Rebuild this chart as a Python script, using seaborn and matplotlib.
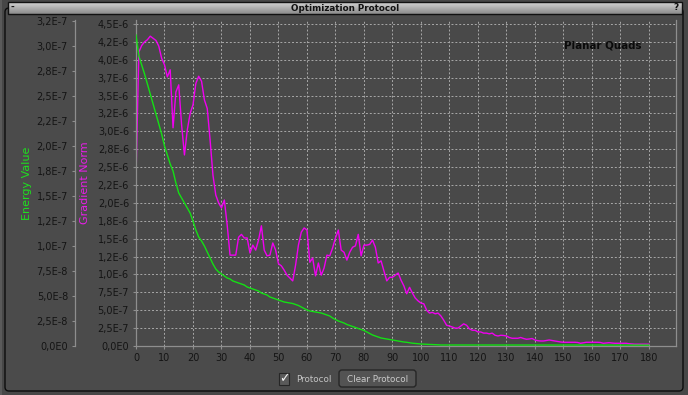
import numpy as np
import pandas as pd
import matplotlib
matplotlib.use("Agg")
import matplotlib.pyplot as plt
import seaborn as sns
from matplotlib.patches import FancyBboxPatch, Rectangle
from matplotlib.colors import LinearSegmentedColormap

# ---------------- data ----------------
iterations = list(range(0, 181))

# Energy value, in units of 1e-9
energy_1e9 = [
    311, 290, 281, 272, 262, 252, 242, 232, 222, 212,
    200, 191, 182, 175, 163, 153, 148, 143, 138, 133,
    125, 116, 109, 105, 100, 94, 88, 82, 77, 74,
    72, 70, 68, 67, 65, 64, 63, 62, 61, 59,
    58, 57, 56, 55, 53, 52, 51, 49, 48, 47,
    46, 45, 44, 43.5, 43, 42.5, 41.5, 40.5, 39, 37.5,
    36, 35, 34.5, 34, 33.5, 33, 32, 31, 30, 28,
    26.5, 25, 24, 23, 21.5, 20.5, 19.5, 18.5, 17.5, 16.5,
    15.5, 14, 12.5, 11, 10, 9, 8, 7.5, 7, 6.5,
    6, 5.5, 5, 4.5, 4, 3.7, 3.2, 2.8, 2.5, 2.2,
    2, 1.8, 1.7, 1.6, 1.5, 1.4, 1.2, 1.0, 1.0, 1.0,
    1.0, 0.9, 0.9, 0.9, 0.9, 0.9, 0.9, 0.9, 0.9, 0.9,
    0.9, 0.9, 0.9, 0.9, 0.9, 0.9, 0.9, 0.9, 0.9, 0.9,
    0.9, 0.9, 0.9, 0.9, 0.9, 0.9, 0.9, 0.9, 0.9, 0.9,
    0.9, 0.9, 0.9, 0.9, 0.9, 0.9, 0.9, 0.9, 0.9, 0.9,
    0.9, 0.9, 0.9, 0.9, 0.9, 0.9, 0.9, 0.9, 0.9, 0.9,
    0.9, 0.9, 0.9, 0.9, 0.9, 0.9, 0.9, 0.9, 0.9, 0.9,
    0.9, 0.9, 0.9, 0.9, 0.9, 0.9, 0.9, 0.9, 0.9, 0.9,
    0.9,
]

# Gradient norm, in units of 1e-7
gradient_1e7 = [
    23.6, 41.1, 42.0, 42.5, 42.8, 43.3, 43.0, 42.7, 41.9, 40.2,
    39.3, 37.6, 38.6, 30.5, 35.5, 36.5, 30.9, 26.7, 30.2, 32.5,
    33.7, 36.7, 37.7, 37.0, 34.4, 33.2, 28.8, 23.9, 21.1, 20.0,
    19.3, 20.4, 16.9, 12.7, 12.7, 12.7, 15.2, 15.6, 15.1, 15.1,
    13.0, 14.1, 13.4, 14.8, 16.8, 13.4, 12.6, 12.7, 14.4, 13.4,
    11.5, 11.2, 10.6, 9.9, 9.5, 9.1, 11.3, 14.1, 15.9, 16.5,
    16.2, 11.7, 12.3, 9.8, 11.6, 9.9, 10.9, 12.7, 12.6, 13.7,
    15.1, 16.2, 13.4, 13.1, 12.0, 13.1, 13.8, 14.0, 15.6, 12.6,
    14.1, 14.1, 14.2, 14.8, 13.8, 11.6, 11.9, 10.5, 9.1, 9.6,
    9.6, 9.9, 10.2, 9.2, 8.4, 7.3, 8.2, 7.4, 6.7, 6.3,
    6.0, 5.9, 5.0, 4.6, 4.7, 4.5, 4.6, 4.2, 3.6, 2.9,
    2.8, 2.65, 2.5, 2.5, 2.8, 3.1, 2.9, 2.4, 2.2, 2.2,
    1.96, 1.96, 1.8, 1.8, 1.7, 1.8, 1.5, 1.4, 1.5, 1.47,
    1.4, 1.19, 1.08, 1.08, 1.08, 1.19, 1.05, 0.94, 0.98, 1.05,
    0.84, 0.74, 0.70, 0.70, 0.77, 0.84, 0.77, 0.70, 0.63, 0.56,
    0.52, 0.52, 0.52, 0.52, 0.52, 0.49, 0.38, 0.45, 0.52, 0.52,
    0.52, 0.52, 0.52, 0.49, 0.38, 0.42, 0.46, 0.42, 0.38, 0.38,
    0.38, 0.38, 0.38, 0.32, 0.28, 0.25, 0.25, 0.25, 0.25, 0.25,
    0.25,
]

x_ticks = [0, 10, 20, 30, 40, 50, 60, 70, 80, 90, 100, 110, 120, 130, 140, 150, 160, 170, 180]
energy_ticks = [0.0, 2.5e-8, 5.0e-8, 7.5e-8, 1.0e-7, 1.25e-7, 1.5e-7, 1.75e-7,
                2.0e-7, 2.25e-7, 2.5e-7, 2.75e-7, 3.0e-7, 3.25e-7]
energy_tick_labels = ["0,0E0", "2,5E-8", "5,0E-8", "7,5E-8", "1,0E-7", "1,2E-7", "1,5E-7",
                      "1,8E-7", "2,0E-7", "2,2E-7", "2,5E-7", "2,8E-7", "3,0E-7", "3,2E-7"]
gradient_ticks = [0.0, 2.5e-7, 5.0e-7, 7.5e-7, 1.0e-6, 1.25e-6, 1.5e-6, 1.75e-6, 2.0e-6,
                  2.25e-6, 2.5e-6, 2.75e-6, 3.0e-6, 3.25e-6, 3.5e-6, 3.75e-6, 4.0e-6,
                  4.25e-6, 4.5e-6]
gradient_tick_labels = ["0,0E0", "2,5E-7", "5,0E-7", "7,5E-7", "1,0E-6", "1,2E-6", "1,5E-6",
                        "1,8E-6", "2,0E-6", "2,2E-6", "2,5E-6", "2,8E-6", "3,0E-6", "3,2E-6",
                        "3,5E-6", "3,7E-6", "4,0E-6", "4,2E-6", "4,5E-6"]

df = pd.DataFrame({
    "iteration": iterations,
    "energy": np.array(energy_1e9) * 1e-9,
    "gradient": np.array(gradient_1e7) * 1e-7,
})

# ---------------- figure ----------------
W, H = 688, 395
fig = plt.figure(figsize=(W / 100, H / 100), dpi=100, facecolor="#474747")

bg = fig.add_axes([0, 0, 1, 1], zorder=0)
bg.set_xlim(0, W)
bg.set_ylim(H, 0)
bg.axis("off")
bg.add_patch(Rectangle((0, 0), 2, H, color="#5a5a5a", lw=0))
bg.add_patch(FancyBboxPatch((5, 8), 678, 383, boxstyle="round,pad=0,rounding_size=4",
                            fc="#4b4b4b", ec="#0c0c0c", lw=1.0))
# title bar
cmap_tb = LinearSegmentedColormap.from_list("tb", ["#d2d2d2", "#8c8c8c"])
bg.imshow(np.linspace(0, 1, 24).reshape(-1, 1), cmap=cmap_tb, extent=[8, 682, 14, 2],
          aspect="auto", zorder=1)
bg.add_patch(Rectangle((8, 2), 674, 12, fill=False, ec="#111111", lw=1.0, zorder=2))
bg.set_xlim(0, W)
bg.set_ylim(H, 0)
bg.text(345, 8.3, "Optimization Protocol", ha="center", va="center", fontsize=6.3,
        fontweight="bold", color="#111111", zorder=3)
bg.text(12, 7.5, "-", ha="center", va="center", fontsize=6.5, fontweight="bold",
        color="#111111", zorder=3)
bg.text(676, 8, "?", ha="center", va="center", fontsize=6.5, fontweight="bold",
        color="#111111", zorder=3)

# bottom controls
bg.add_patch(Rectangle((279, 373), 10, 12, fc="#5a5a5a", ec="#262626", lw=0.8))
bg.text(284.5, 378.5, "\u2713", ha="center", va="center", fontsize=9, fontweight="bold",
        color="#f4f4f4")
bg.text(296, 379, "Protocol", ha="left", va="center", fontsize=6.3, color="#c4c4c4")
bg.add_patch(FancyBboxPatch((339, 370), 77, 17, boxstyle="round,pad=0,rounding_size=3",
                            fc="#535353", ec="#262626", lw=1.0))
bg.text(377.5, 379, "Clear Protocol", ha="center", va="center", fontsize=6.3, color="#cacaca")

# axis titles
bg.text(27.5, 183, "Energy Value", rotation=90, ha="center", va="center", fontsize=8,
        color="#1ee01e")
bg.text(85, 183, "Gradient Norm", rotation=90, ha="center", va="center", fontsize=8,
        color="#e81ee8")

# ---------------- plot ----------------
L, R, T, B = 136, 676, 20, 346
ax = fig.add_axes([L / W, 1 - B / H, (R - L) / W, (B - T) / H], zorder=2)
ax.set_facecolor("#494949")
sns.lineplot(data=df, x="iteration", y="gradient", ax=ax, color="#f000f0", lw=1.0)

ax2 = ax.twinx()
sns.lineplot(data=df, x="iteration", y="energy", ax=ax2, color="#14e014", lw=1.0)

ax.set_xlim(0, 189.5)
ax.set_ylim(0, 4.556e-6)
ax2.set_ylim(0, 3.26e-7)

ax.set_xticks(x_ticks)
ax.set_xticklabels([str(v) for v in x_ticks])
ax.set_yticks(gradient_ticks)
ax.set_yticklabels(gradient_tick_labels)
ax2.set_yticks(energy_ticks)
ax2.set_yticklabels(energy_tick_labels)

ax.set_xlabel("")
ax.set_ylabel("")
ax2.set_xlabel("")
ax2.set_ylabel("")

spine_c = "#8e8e8e"
for s in ["left", "bottom", "right"]:
    ax.spines[s].set_color(spine_c)
    ax.spines[s].set_linewidth(0.9)
ax.spines["top"].set_visible(False)

ax2.yaxis.tick_left()
ax2.yaxis.set_label_position("left")
for s in ["top", "bottom", "right"]:
    ax2.spines[s].set_visible(False)
ax2.spines["left"].set_visible(True)
ax2.spines["left"].set_position(("outward", 61 * 0.72))
ax2.spines["left"].set_color(spine_c)
ax2.spines["left"].set_linewidth(0.9)

tick_kw = dict(direction="out", length=2.5, width=0.8, color=spine_c, labelsize=7,
               labelcolor="#141414", pad=2.5)
ax.tick_params(axis="both", **tick_kw)
ax2.tick_params(axis="y", **tick_kw)

ax.grid(True, color="#a8a8a8", linestyle=(0, (2, 2)), linewidth=0.7)
ax.set_axisbelow(True)

fig.text(603 / W, 1 - 45 / H, "Planar Quads", ha="center", va="center", fontsize=7.4,
         fontweight="bold", color="#0a0a0a", zorder=10)

fig.savefig("out.png", dpi=100, facecolor=fig.get_facecolor())
